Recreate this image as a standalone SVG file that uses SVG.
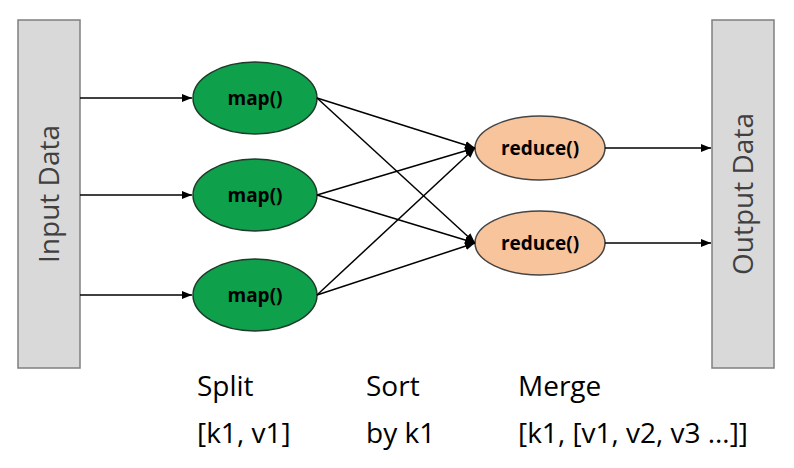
<svg xmlns="http://www.w3.org/2000/svg" width="794" height="468" viewBox="0 0 794 468">
<style>
.box{fill:#d9d9d9;stroke:#7f7f7f;stroke-width:1.5}
.map{fill:#0ea04b;stroke:#1f3a2a;stroke-width:1.5}
.red{fill:#f8c49c;stroke:#444;stroke-width:1.5}
.lbl{font-family:"Open Sans","Liberation Sans",sans-serif;font-size:28px;fill:#000}
.big{font-family:"Open Sans","Liberation Sans",sans-serif;font-size:28px;fill:#404040}
.nt{font-family:"Open Sans","Liberation Sans",sans-serif;font-size:19px;font-weight:bold;fill:#000;text-anchor:middle}
.c line{stroke:#000;stroke-width:1.5;marker-end:url(#ah)}
</style>
<defs><marker id="ah" markerWidth="10" markerHeight="8" refX="10" refY="4" orient="auto" markerUnits="userSpaceOnUse"><path d="M0,0L10,4L0,8z" fill="#000"/></marker></defs>
<rect width="794" height="468" fill="#fff"/>
<g id="input"><rect class="box" x="18" y="20" width="62" height="348"/><text class="big" transform="translate(59,194) rotate(-90)" text-anchor="middle">Input Data</text></g>
<g id="output"><rect class="box" x="712" y="20" width="62" height="348"/><text class="big" transform="translate(753,194) rotate(-90)" text-anchor="middle">Output Data</text></g>
<g id="map1"><ellipse class="map" cx="255" cy="98" rx="62" ry="36"/><text class="nt" x="255" y="105">map()</text></g>
<g id="map2"><ellipse class="map" cx="255" cy="195" rx="62" ry="36"/><text class="nt" x="255" y="202">map()</text></g>
<g id="map3"><ellipse class="map" cx="255" cy="295" rx="62" ry="36"/><text class="nt" x="255" y="302">map()</text></g>
<g id="reduce1"><ellipse class="red" cx="540" cy="148" rx="65" ry="32"/><text class="nt" x="540" y="155">reduce()</text></g>
<g id="reduce2"><ellipse class="red" cx="540" cy="243" rx="65" ry="32"/><text class="nt" x="540" y="250">reduce()</text></g>
<g class="c">
<line x1="80" y1="98" x2="192" y2="98"/>
<line x1="80" y1="195" x2="192" y2="195"/>
<line x1="80" y1="295" x2="192" y2="295"/>
<line x1="317" y1="98" x2="475" y2="148"/>
<line x1="317" y1="98" x2="475" y2="243"/>
<line x1="317" y1="195" x2="475" y2="148"/>
<line x1="317" y1="195" x2="475" y2="243"/>
<line x1="317" y1="295" x2="475" y2="148"/>
<line x1="317" y1="295" x2="475" y2="243"/>
<line x1="605" y1="148" x2="711" y2="148"/>
<line x1="605" y1="243" x2="711" y2="243"/>
</g>
<g id="labels">
<text class="lbl" x="197" y="396">Split</text><text class="lbl" x="197" y="443">[k1, v1]</text>
<text class="lbl" x="366" y="396">Sort</text><text class="lbl" x="366" y="443">by k1</text>
<text class="lbl" x="518" y="396">Merge</text><text class="lbl" x="518" y="443">[k1, [v1, v2, v3 …]]</text>
</g>
</svg>
